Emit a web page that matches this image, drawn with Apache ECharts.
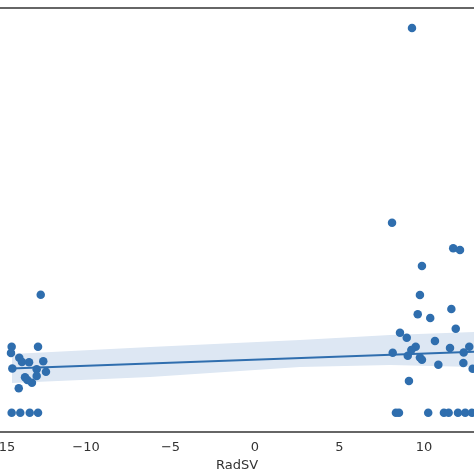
<!DOCTYPE html>
<html>
<head>
<meta charset="utf-8">
<script src="https://cdn.jsdelivr.net/npm/echarts@6/dist/echarts.min.js"></script>
<style>
  html, body { margin: 0; padding: 0; background: #fff; }
  #main { width: 474px; height: 474px; }
</style>
</head>
<body>
<div id="main"></div>
<script>
// scatter points: [RadSV, y]
var leftPoints = [
    [-12.68, 6.12], [-14.40, 3.42], [-14.44, 3.10], [-12.84, 3.42],
    [-13.95, 2.85], [-13.79, 2.63], [-13.37, 2.62], [-12.53, 2.67],
    [-14.36, 2.30], [-12.92, 2.25], [-12.37, 2.13], [-12.92, 1.90],
    [-13.61, 1.84], [-13.47, 1.70], [-13.20, 1.56], [-13.98, 1.27],
    [-14.40, 0], [-13.89, 0], [-13.33, 0], [-12.84, 0]
];
var rightPoints = [
    [9.29, 19.96], [8.11, 9.86], [11.73, 8.53], [12.13, 8.44], [9.88, 7.61],
    [9.76, 6.11], [9.63, 5.11], [11.62, 5.38], [10.37, 4.91], [11.88, 4.36],
    [8.58, 4.15], [8.98, 3.89], [10.65, 3.72], [9.51, 3.42], [9.25, 3.25],
    [11.54, 3.36], [12.68, 3.42], [8.15, 3.11], [9.04, 2.96], [12.35, 3.13],
    [9.76, 2.87], [9.88, 2.75], [10.85, 2.49], [12.33, 2.58], [12.88, 2.28],
    [9.11, 1.65],
    [8.34, 0], [8.52, 0], [10.25, 0], [11.18, 0], [11.46, 0], [12.01, 0],
    [12.44, 0], [12.84, 0]
];
// regression line ends and confidence band
var fitLine = [[-14.44, 2.30], [12.96, 3.17]];
var bandX = [-14.38, -6.21, 2.66, 7.99, 12.96];
var bandLow = [1.54, 1.85, 2.37, 2.48, 2.37];
var bandHigh = [3.05, 3.41, 3.77, 4.03, 4.19];
var xTicks = [-15, -10, -5, 0, 5, 10];

var blue = '#2f6eae';
var myChart = echarts.init(document.getElementById('main'));

var bandData = [];
for (var i = 0; i < bandX.length; i++) {
    bandData.push([bandX[i], bandLow[i], bandHigh[i]]);
}

myChart.setOption({
    animation: false,
    grid: { left: 0, right: 0, top: 8, bottom: 42, outerBoundsMode: 'none', containLabel: false },
    xAxis: [
        {
            type: 'value',
            min: -15.09,
            max: 12.96,
            position: 'bottom',
            name: 'RadSV',
            nameLocation: 'middle',
            nameGap: 23,
            nameTextStyle: { fontFamily: 'DejaVu Sans', fontSize: 13, color: '#333' },
            axisLine: { show: true, onZero: false, lineStyle: { color: '#333', width: 1.5 } },
            axisTick: { show: false },
            splitLine: { show: false },
            axisLabel: {
                fontFamily: 'DejaVu Sans',
                fontSize: 13,
                color: '#333',
                margin: 9,
                customValues: xTicks,
                formatter: function (v) { return v < 0 ? '\u2212' + Math.abs(v) : String(v); }
            }
        },
        {
            type: 'value',
            min: -15.09,
            max: 12.96,
            position: 'top',
            axisLine: { show: true, onZero: false, lineStyle: { color: '#333', width: 1.5 } },
            axisTick: { show: false },
            axisLabel: { show: false },
            splitLine: { show: false }
        }
    ],
    yAxis: {
        type: 'value',
        min: -1,
        max: 21,
        show: false,
        splitLine: { show: false }
    },
    series: [
        {
            type: 'custom',
            z: 1,
            renderItem: function (params, api) {
                if (params.dataIndex > 0) return null;
                var top = [], bottom = [];
                for (var k = 0; k < bandData.length; k++) {
                    top.push(api.coord([bandData[k][0], bandData[k][2]]));
                    bottom.unshift(api.coord([bandData[k][0], bandData[k][1]]));
                }
                return {
                    type: 'polygon',
                    shape: { points: top.concat(bottom) },
                    style: { fill: '#dde7f3' }
                };
            },
            data: bandData,
            silent: true
        },
        {
            type: 'line',
            z: 3,
            data: fitLine,
            symbol: 'none',
            lineStyle: { color: blue, width: 2 },
            silent: true
        },
        {
            type: 'scatter',
            z: 4,
            data: leftPoints.concat(rightPoints),
            symbolSize: 8.5,
            itemStyle: { color: blue, opacity: 1 }
        }
    ]
});
</script>
</body>
</html>
